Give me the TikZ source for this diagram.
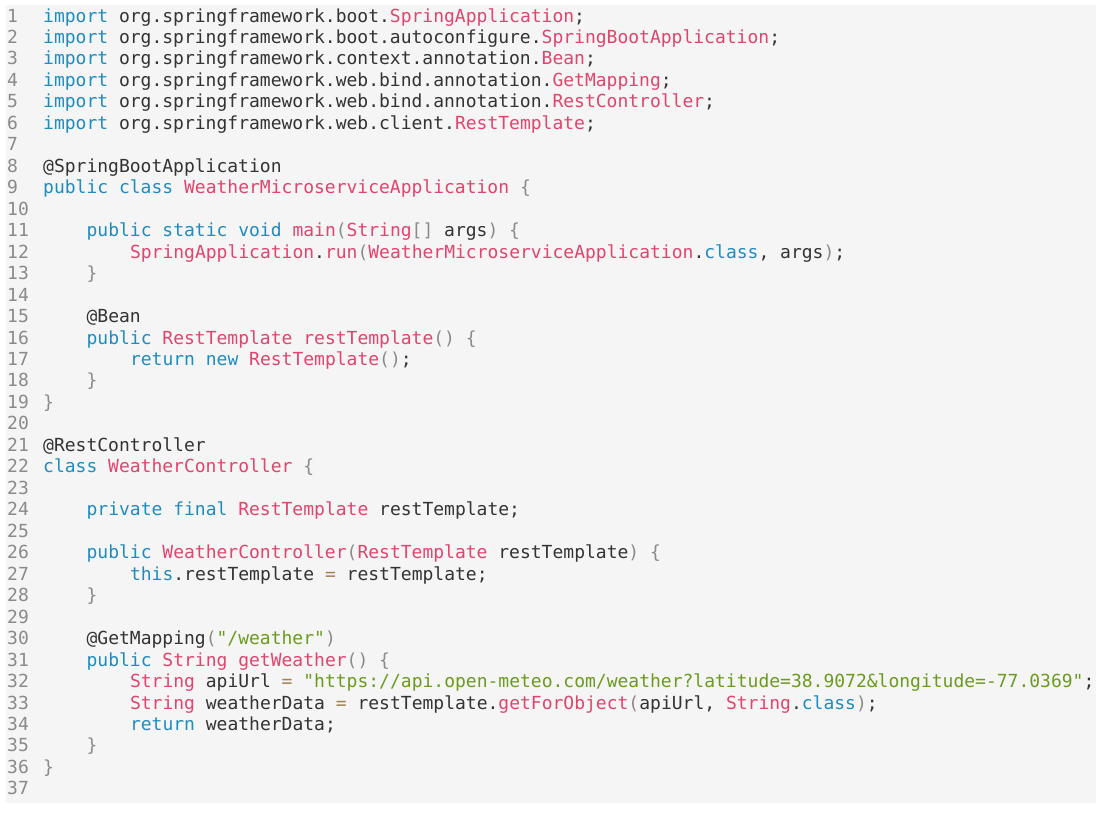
\documentclass[tikz,border=0pt]{standalone}
\usepackage{fontspec}
\setmonofont{DejaVu Sans Mono}
\definecolor{kw}{HTML}{1F8CC0}
\definecolor{ty}{HTML}{E0456D}
\definecolor{st}{HTML}{6B9B1E}
\definecolor{tx}{HTML}{333333}
\definecolor{pu}{HTML}{8A8A8A}
\definecolor{eqc}{HTML}{A08050}
\definecolor{bgc}{HTML}{F5F5F5}
\newcommand\K[1]{\textcolor{kw}{#1}}
\newcommand\T[1]{\textcolor{ty}{#1}}
\newcommand\Sg[1]{\textcolor{st}{#1}}
\newcommand\Pu[1]{\textcolor{pu}{#1}}
\newcommand\Eq{\textcolor{eqc}{=}}
\tikzset{code/.style={anchor=base west,inner sep=0pt,text=tx,font=\ttfamily\fontsize{18}{21}\selectfont},
lnum/.style={anchor=base west,inner sep=0pt,text=pu,font=\ttfamily\fontsize{18}{21}\selectfont}}
\newcommand\CL[3]{% line, indent, text
 \node[lnum] (n#1) at (7,{-22-(#1-1)*21.47}) {#1};
 \node[code] (c#1) at ({43+#2*10.85},{-22-(#1-1)*21.47}) {#3};}
\newcommand\NL[1]{\node[lnum] (n#1) at (7,{-22-(#1-1)*21.47}) {#1};}
\begin{document}
\begin{tikzpicture}[x=1pt,y=1pt]
\useasboundingbox (0,0) rectangle (1096,-812);
\fill[bgc] (6,-5) rectangle (1096,-803);
\CL{1}{0}{\K{import} org.springframework.boot.\T{SpringApplication};}
\CL{2}{0}{\K{import} org.springframework.boot.autoconfigure.\T{SpringBootApplication};}
\CL{3}{0}{\K{import} org.springframework.context.annotation.\T{Bean};}
\CL{4}{0}{\K{import} org.springframework.web.bind.annotation.\T{GetMapping};}
\CL{5}{0}{\K{import} org.springframework.web.bind.annotation.\T{RestController};}
\CL{6}{0}{\K{import} org.springframework.web.client.\T{RestTemplate};}
\NL{7}
\CL{8}{0}{@SpringBootApplication}
\CL{9}{0}{\K{public} \K{class} \T{WeatherMicroserviceApplication} \Pu{\{}}
\NL{10}
\CL{11}{4}{\K{public} \K{static} \K{void} \T{main}\Pu{(}\T{String}\Pu{[]} args\Pu{)} \Pu{\{}}
\CL{12}{8}{\T{SpringApplication}.\T{run}\Pu{(}\T{WeatherMicroserviceApplication}.\K{class}, args\Pu{)};}
\CL{13}{4}{\Pu{\}}}
\NL{14}
\CL{15}{4}{@Bean}
\CL{16}{4}{\K{public} \T{RestTemplate} \T{restTemplate}\Pu{() \{}}
\CL{17}{8}{\K{return} \K{new} \T{RestTemplate}\Pu{()};}
\CL{18}{4}{\Pu{\}}}
\CL{19}{0}{\Pu{\}}}
\NL{20}
\CL{21}{0}{@RestController}
\CL{22}{0}{\K{class} \T{WeatherController} \Pu{\{}}
\NL{23}
\CL{24}{4}{\K{private} \K{final} \T{RestTemplate} restTemplate;}
\NL{25}
\CL{26}{4}{\K{public} \T{WeatherController}\Pu{(}\T{RestTemplate} restTemplate\Pu{)} \Pu{\{}}
\CL{27}{8}{\K{this}.restTemplate \Eq{} restTemplate;}
\CL{28}{4}{\Pu{\}}}
\NL{29}
\CL{30}{4}{@GetMapping\Pu{(}\Sg{"/weather"}\Pu{)}}
\CL{31}{4}{\K{public} \T{String} \T{getWeather}\Pu{() \{}}
\CL{32}{8}{\T{String} apiUrl \Eq{} \Sg{"https://api.open-meteo.com/weather?latitude=38.9072\&longitude=-77.0369"};}
\CL{33}{8}{\T{String} weatherData \Eq{} restTemplate.\T{getForObject}\Pu{(}apiUrl, \T{String}.\K{class}\Pu{)};}
\CL{34}{8}{\K{return} weatherData;}
\CL{35}{4}{\Pu{\}}}
\CL{36}{0}{\Pu{\}}}
\NL{37}
\end{tikzpicture}
\end{document}
